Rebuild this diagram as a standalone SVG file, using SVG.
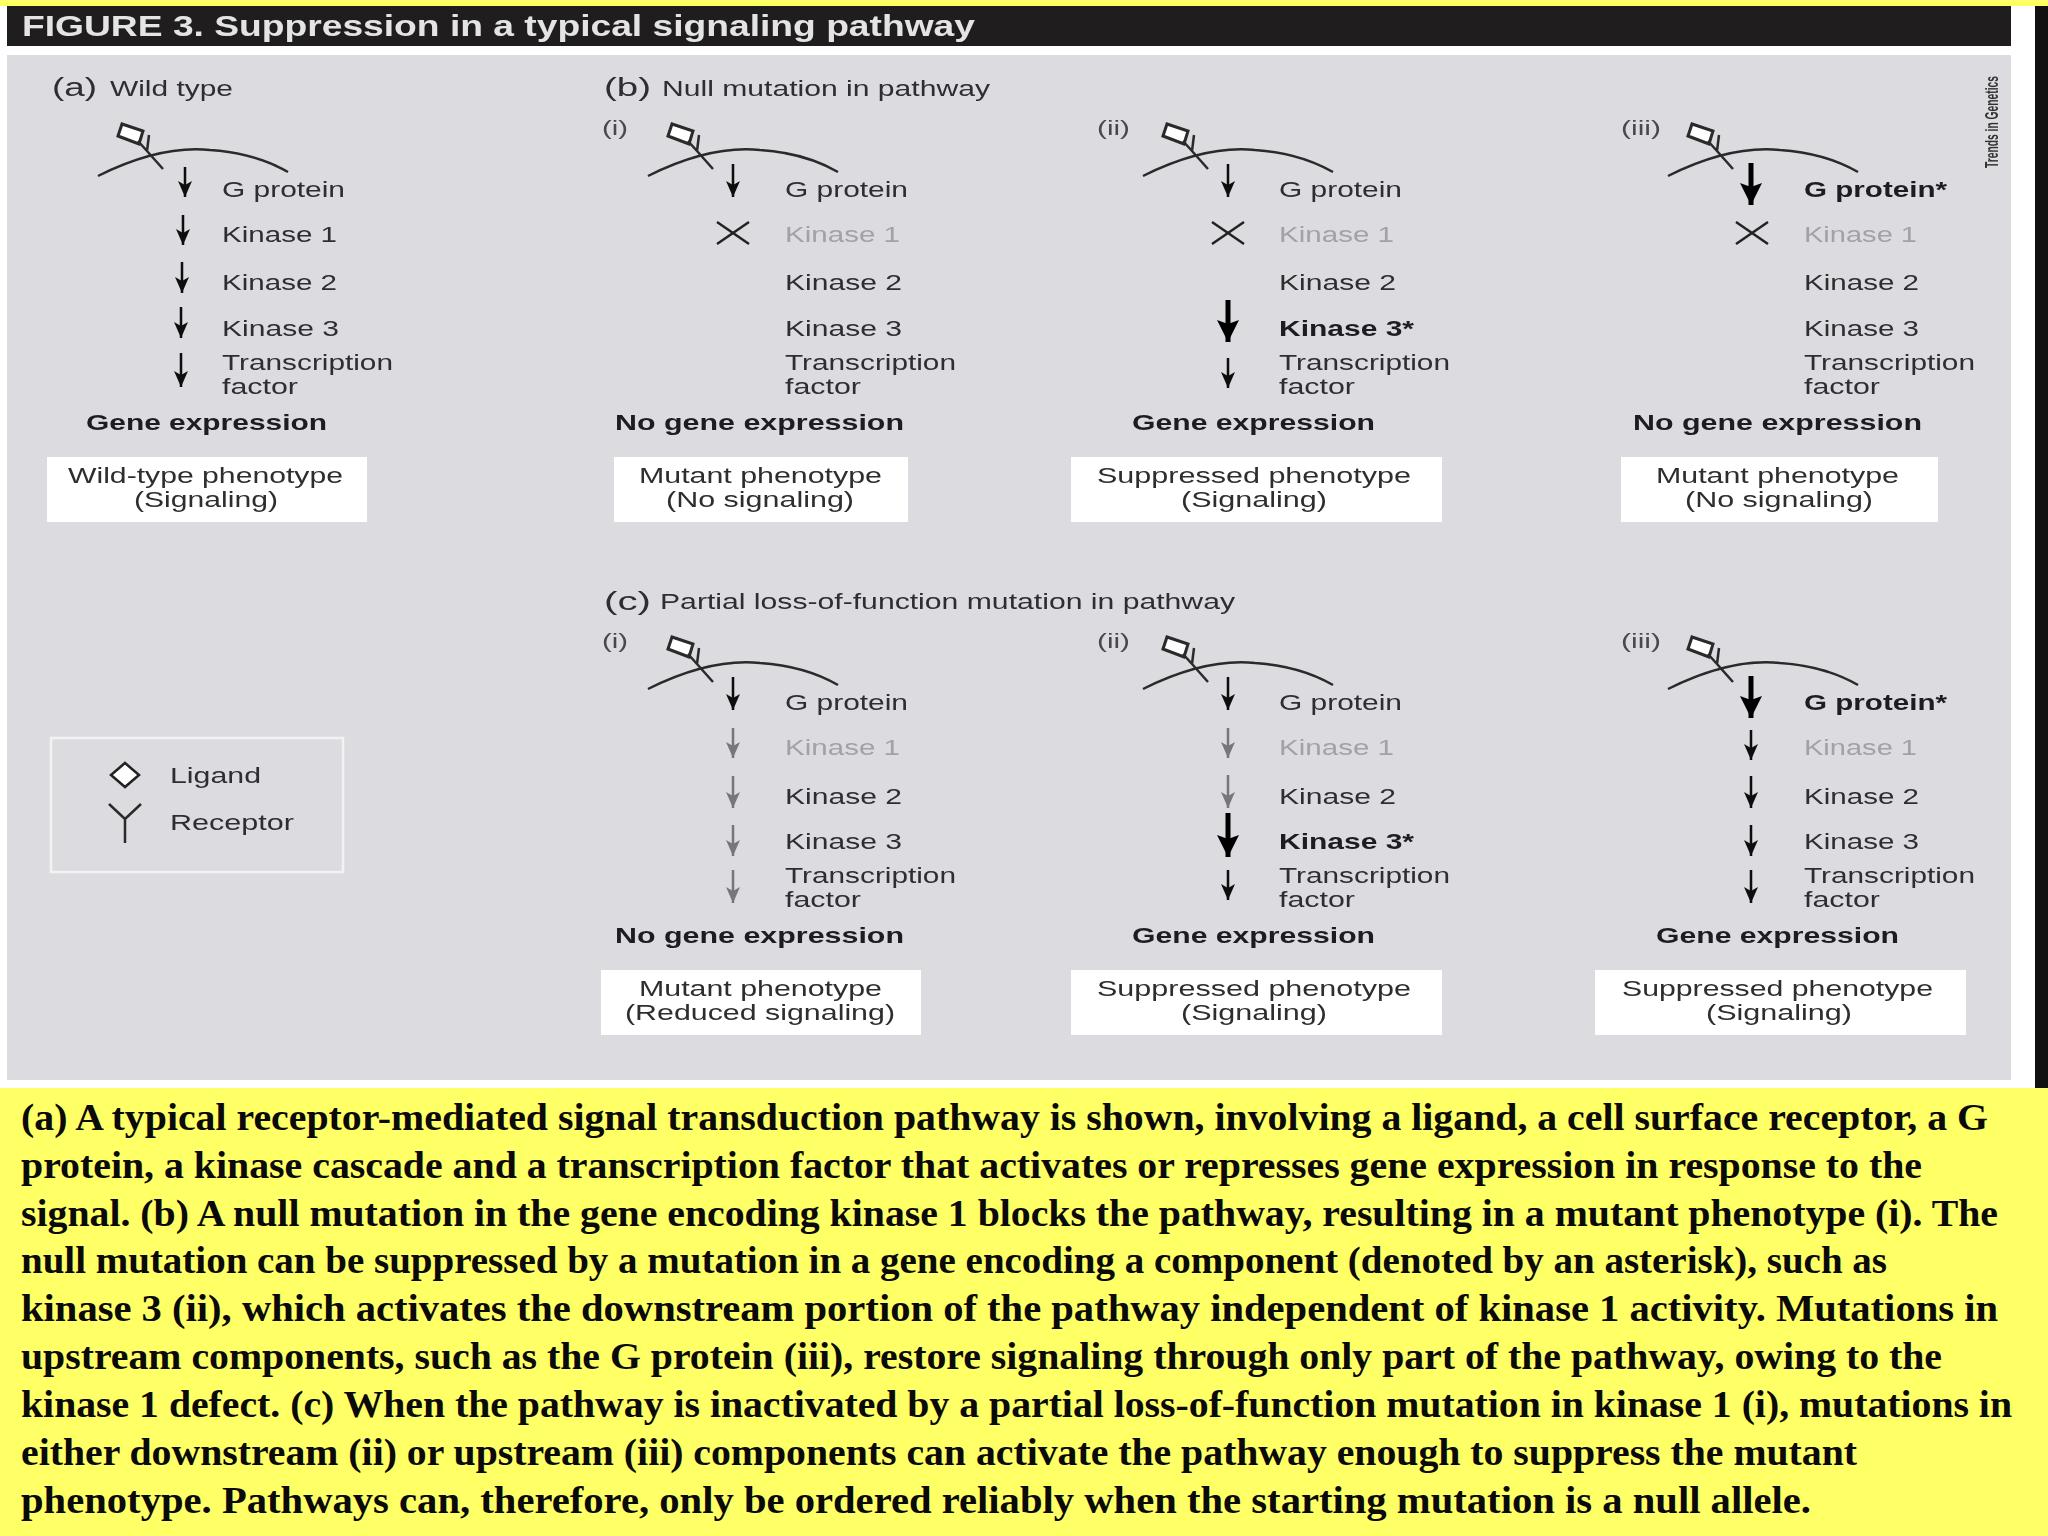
<svg xmlns="http://www.w3.org/2000/svg" xmlns:xlink="http://www.w3.org/1999/xlink" width="2048" height="1536" viewBox="0 0 2048 1536">
<style>
text{font-family:"Liberation Sans",Arial,sans-serif;font-size:22px;fill:#2e2e30}
.g{fill:#a2a2a6}
.b{font-weight:700;fill:#1e1e20}
.sm{font-size:20px;fill:#4a4a4c}
.h{font-size:29px;font-weight:700;fill:#e4e4e4}
.p{font-family:"Liberation Serif",serif;font-size:38.5px;font-weight:700;fill:#0a0a0a}
.bx{fill:#fff}
.a{stroke:#111;stroke-width:2.5;fill:none;marker-end:url(#ah)}
.ag{stroke:#77777a;stroke-width:2.5;fill:none;marker-end:url(#ahg)}
.ab{stroke:#000;stroke-width:5;fill:none;marker-end:url(#ahb)}
.x{stroke:#222;stroke-width:2.5;fill:none}
.mem{stroke:#2a2a2a;stroke-width:2.5;fill:none}
</style>
<defs>
<filter id="soft" x="0" y="0" width="100%" height="100%"><feGaussianBlur stdDeviation="0.6"/></filter>
<marker id="ah" markerUnits="userSpaceOnUse" markerWidth="20" markerHeight="20" refX="16" refY="8" orient="auto"><path d="M0,1 L16,8 L0,15 L4,8Z" fill="#111"/></marker>
<marker id="ahg" markerUnits="userSpaceOnUse" markerWidth="20" markerHeight="20" refX="16" refY="8" orient="auto"><path d="M0,1 L16,8 L0,15 L4,8Z" fill="#77777a"/></marker>
<marker id="ahb" markerUnits="userSpaceOnUse" markerWidth="26" markerHeight="26" refX="22" refY="12" orient="auto"><path d="M0,1 L22,12 L0,23 L4,12Z" fill="#000"/></marker>
<g id="rc">
<path class="mem" d="M98,176 Q160,145 210,150 Q255,153 288,172"/>
<path d="M118,136 L122,124 L143,131 L139,144Z" fill="#fff" stroke="#2a2a2a" stroke-width="3"/>
<path class="mem" d="M163,169 L147,151 M147,151 L138,141 M147,151 L149,135"/>
</g>
<path id="xm" class="x" d="M-16,-11 L16,11 M-16,11 L16,-11"/>
</defs>
<rect width="2048" height="1536" fill="#fff"/>
<rect width="2048" height="6" fill="#ffff66"/>
<rect x="0" y="1088" width="2048" height="448" fill="#ffff66"/>
<rect x="2035" y="6" width="13" height="1082" fill="#111"/>
<rect x="7" y="6" width="2004" height="40" fill="#1f1d1d"/>
<rect x="7" y="55" width="2004" height="1025" fill="#dcdce0"/>
<g id="figure" filter="url(#soft)">
<text class="h" x="22" y="36" textLength="953" lengthAdjust="spacingAndGlyphs">FIGURE 3. Suppression in a typical signaling pathway</text>

<g id="panel-a">
<text x="52" y="96" textLength="45" lengthAdjust="spacingAndGlyphs" style="font-size:26px">(a)</text>
<text x="110" y="96" textLength="123" lengthAdjust="spacingAndGlyphs">Wild type</text>
<use href="#rc"/>
<text x="222" y="197" textLength="123" lengthAdjust="spacingAndGlyphs">G protein</text>
<text x="222" y="242" textLength="115" lengthAdjust="spacingAndGlyphs">Kinase 1</text>
<text x="222" y="290" textLength="115" lengthAdjust="spacingAndGlyphs">Kinase 2</text>
<text x="222" y="336" textLength="117" lengthAdjust="spacingAndGlyphs">Kinase 3</text>
<text x="222" y="370" textLength="171" lengthAdjust="spacingAndGlyphs">Transcription</text>
<text x="222" y="394" textLength="76" lengthAdjust="spacingAndGlyphs">factor</text>
<text class="b" x="86" y="430" textLength="241" lengthAdjust="spacingAndGlyphs">Gene expression</text>
<rect class="bx" x="47" y="457" width="320" height="65"/>
<text x="68" y="483" textLength="275" lengthAdjust="spacingAndGlyphs">Wild-type phenotype</text>
<text x="134" y="507" textLength="144" lengthAdjust="spacingAndGlyphs">(Signaling)</text>
</g>

<g id="panel-b-title">
<text x="604" y="96" textLength="47" lengthAdjust="spacingAndGlyphs" style="font-size:26px">(b)</text>
<text x="662" y="96" textLength="328" lengthAdjust="spacingAndGlyphs">Null mutation in pathway</text>
<text class="sm" x="602" y="135" textLength="26" lengthAdjust="spacingAndGlyphs">(i)</text>
<text class="sm" x="1097" y="135" textLength="33" lengthAdjust="spacingAndGlyphs">(ii)</text>
<text class="sm" x="1621" y="135" textLength="40" lengthAdjust="spacingAndGlyphs">(iii)</text>
<text x="1998" y="168" textLength="92" lengthAdjust="spacingAndGlyphs" transform="rotate(-90 1998 168)" style="font-size:18px;font-weight:700;fill:#333">Trends in Genetics</text>
</g>

<g id="panel-b-i">
<use href="#rc" x="550"/>
<use href="#xm" x="733" y="233"/>
<text x="785" y="197" textLength="123" lengthAdjust="spacingAndGlyphs">G protein</text>
<text class="g" x="785" y="242" textLength="115" lengthAdjust="spacingAndGlyphs">Kinase 1</text>
<text x="785" y="290" textLength="117" lengthAdjust="spacingAndGlyphs">Kinase 2</text>
<text x="785" y="336" textLength="117" lengthAdjust="spacingAndGlyphs">Kinase 3</text>
<text x="785" y="370" textLength="171" lengthAdjust="spacingAndGlyphs">Transcription</text>
<text x="785" y="394" textLength="76" lengthAdjust="spacingAndGlyphs">factor</text>
<text class="b" x="615" y="430" textLength="289" lengthAdjust="spacingAndGlyphs">No gene expression</text>
<rect class="bx" x="614" y="457" width="294" height="65"/>
<text x="639" y="483" textLength="243" lengthAdjust="spacingAndGlyphs">Mutant phenotype</text>
<text x="666" y="507" textLength="188" lengthAdjust="spacingAndGlyphs">(No signaling)</text>
</g>

<g id="panel-b-ii">
<use href="#rc" x="1045"/>
<use href="#xm" x="1228" y="233"/>
<text x="1279" y="197" textLength="123" lengthAdjust="spacingAndGlyphs">G protein</text>
<text class="g" x="1279" y="242" textLength="115" lengthAdjust="spacingAndGlyphs">Kinase 1</text>
<text x="1279" y="290" textLength="117" lengthAdjust="spacingAndGlyphs">Kinase 2</text>
<text class="b" x="1279" y="336" textLength="135" lengthAdjust="spacingAndGlyphs">Kinase 3*</text>
<text x="1279" y="370" textLength="171" lengthAdjust="spacingAndGlyphs">Transcription</text>
<text x="1279" y="394" textLength="76" lengthAdjust="spacingAndGlyphs">factor</text>
<text class="b" x="1132" y="430" textLength="243" lengthAdjust="spacingAndGlyphs">Gene expression</text>
<rect class="bx" x="1071" y="457" width="371" height="65"/>
<text x="1097" y="483" textLength="314" lengthAdjust="spacingAndGlyphs">Suppressed phenotype</text>
<text x="1181" y="507" textLength="146" lengthAdjust="spacingAndGlyphs">(Signaling)</text>
</g>

<g id="panel-b-iii">
<use href="#rc" x="1570"/>
<use href="#xm" x="1752" y="233"/>
<text class="b" x="1804" y="197" textLength="143" lengthAdjust="spacingAndGlyphs">G protein*</text>
<text class="g" x="1804" y="242" textLength="113" lengthAdjust="spacingAndGlyphs">Kinase 1</text>
<text x="1804" y="290" textLength="115" lengthAdjust="spacingAndGlyphs">Kinase 2</text>
<text x="1804" y="336" textLength="115" lengthAdjust="spacingAndGlyphs">Kinase 3</text>
<text x="1804" y="370" textLength="171" lengthAdjust="spacingAndGlyphs">Transcription</text>
<text x="1804" y="394" textLength="76" lengthAdjust="spacingAndGlyphs">factor</text>
<text class="b" x="1633" y="430" textLength="289" lengthAdjust="spacingAndGlyphs">No gene expression</text>
<rect class="bx" x="1621" y="457" width="317" height="65"/>
<text x="1656" y="483" textLength="243" lengthAdjust="spacingAndGlyphs">Mutant phenotype</text>
<text x="1685" y="507" textLength="188" lengthAdjust="spacingAndGlyphs">(No signaling)</text>
</g>

<g id="panel-c-title">
<text x="604" y="610" textLength="47" lengthAdjust="spacingAndGlyphs" style="font-size:26px">(c)</text>
<text x="660" y="609" textLength="575" lengthAdjust="spacingAndGlyphs">Partial loss-of-function mutation in pathway</text>
<text class="sm" x="602" y="648" textLength="26" lengthAdjust="spacingAndGlyphs">(i)</text>
<text class="sm" x="1097" y="648" textLength="33" lengthAdjust="spacingAndGlyphs">(ii)</text>
<text class="sm" x="1621" y="648" textLength="40" lengthAdjust="spacingAndGlyphs">(iii)</text>
</g>

<g id="panel-c-i">
<use href="#rc" x="550" y="513"/>
<text x="785" y="710" textLength="123" lengthAdjust="spacingAndGlyphs">G protein</text>
<text class="g" x="785" y="755" textLength="115" lengthAdjust="spacingAndGlyphs">Kinase 1</text>
<text x="785" y="804" textLength="117" lengthAdjust="spacingAndGlyphs">Kinase 2</text>
<text x="785" y="849" textLength="117" lengthAdjust="spacingAndGlyphs">Kinase 3</text>
<text x="785" y="883" textLength="171" lengthAdjust="spacingAndGlyphs">Transcription</text>
<text x="785" y="907" textLength="76" lengthAdjust="spacingAndGlyphs">factor</text>
<text class="b" x="615" y="943" textLength="289" lengthAdjust="spacingAndGlyphs">No gene expression</text>
<rect class="bx" x="601" y="970" width="320" height="65"/>
<text x="639" y="996" textLength="243" lengthAdjust="spacingAndGlyphs">Mutant phenotype</text>
<text x="625" y="1020" textLength="270" lengthAdjust="spacingAndGlyphs">(Reduced signaling)</text>
</g>

<g id="panel-c-ii">
<use href="#rc" x="1045" y="513"/>
<text x="1279" y="710" textLength="123" lengthAdjust="spacingAndGlyphs">G protein</text>
<text class="g" x="1279" y="755" textLength="115" lengthAdjust="spacingAndGlyphs">Kinase 1</text>
<text x="1279" y="804" textLength="117" lengthAdjust="spacingAndGlyphs">Kinase 2</text>
<text class="b" x="1279" y="849" textLength="135" lengthAdjust="spacingAndGlyphs">Kinase 3*</text>
<text x="1279" y="883" textLength="171" lengthAdjust="spacingAndGlyphs">Transcription</text>
<text x="1279" y="907" textLength="76" lengthAdjust="spacingAndGlyphs">factor</text>
<text class="b" x="1132" y="943" textLength="243" lengthAdjust="spacingAndGlyphs">Gene expression</text>
<rect class="bx" x="1071" y="970" width="371" height="65"/>
<text x="1097" y="996" textLength="314" lengthAdjust="spacingAndGlyphs">Suppressed phenotype</text>
<text x="1181" y="1020" textLength="146" lengthAdjust="spacingAndGlyphs">(Signaling)</text>
</g>

<g id="panel-c-iii">
<use href="#rc" x="1570" y="513"/>
<text class="b" x="1804" y="710" textLength="143" lengthAdjust="spacingAndGlyphs">G protein*</text>
<text class="g" x="1804" y="755" textLength="113" lengthAdjust="spacingAndGlyphs">Kinase 1</text>
<text x="1804" y="804" textLength="115" lengthAdjust="spacingAndGlyphs">Kinase 2</text>
<text x="1804" y="849" textLength="115" lengthAdjust="spacingAndGlyphs">Kinase 3</text>
<text x="1804" y="883" textLength="171" lengthAdjust="spacingAndGlyphs">Transcription</text>
<text x="1804" y="907" textLength="76" lengthAdjust="spacingAndGlyphs">factor</text>
<text class="b" x="1656" y="943" textLength="243" lengthAdjust="spacingAndGlyphs">Gene expression</text>
<rect class="bx" x="1595" y="970" width="371" height="65"/>
<text x="1622" y="996" textLength="311" lengthAdjust="spacingAndGlyphs">Suppressed phenotype</text>
<text x="1706" y="1020" textLength="146" lengthAdjust="spacingAndGlyphs">(Signaling)</text>
</g>

<g id="legend">
<rect x="51" y="738" width="292" height="134" fill="none" stroke="#f2f2f4" stroke-width="2.5"/>
<path d="M125,763 L139,775 L125,787 L111,775Z" fill="#fff" stroke="#222" stroke-width="2.5"/>
<path class="mem" d="M109,804 L125,819 L141,804 M125,819 L125,843"/>
<text x="170" y="783" textLength="91" lengthAdjust="spacingAndGlyphs">Ligand</text>
<text x="170" y="830" textLength="124" lengthAdjust="spacingAndGlyphs">Receptor</text>
</g>

<g id="connectors">
<line class="a" x1="185" y1="167" x2="185" y2="197"/>
<line class="a" x1="183" y1="215" x2="183" y2="245"/>
<line class="a" x1="182" y1="262" x2="182" y2="293"/>
<line class="a" x1="181" y1="307" x2="181" y2="338"/>
<line class="a" x1="181" y1="353" x2="181" y2="387"/>
<line class="a" x1="733" y1="164" x2="733" y2="197"/>
<line class="a" x1="1228" y1="164" x2="1228" y2="197"/>
<line class="ab" x1="1228" y1="300" x2="1228" y2="342"/>
<line class="a" x1="1228" y1="358" x2="1228" y2="388"/>
<line class="ab" x1="1751" y1="163" x2="1751" y2="205"/>
<line class="a" x1="733" y1="677" x2="733" y2="710"/>
<line class="ag" x1="733" y1="728" x2="733" y2="758"/>
<line class="ag" x1="733" y1="776" x2="733" y2="808"/>
<line class="ag" x1="733" y1="825" x2="733" y2="856"/>
<line class="ag" x1="733" y1="870" x2="733" y2="903"/>
<line class="a" x1="1228" y1="677" x2="1228" y2="710"/>
<line class="ag" x1="1228" y1="728" x2="1228" y2="758"/>
<line class="ag" x1="1228" y1="775" x2="1228" y2="808"/>
<line class="ab" x1="1228" y1="813" x2="1228" y2="857"/>
<line class="a" x1="1228" y1="870" x2="1228" y2="900"/>
<line class="ab" x1="1751" y1="676" x2="1751" y2="718"/>
<line class="a" x1="1751" y1="730" x2="1751" y2="760"/>
<line class="a" x1="1751" y1="776" x2="1751" y2="808"/>
<line class="a" x1="1751" y1="825" x2="1751" y2="856"/>
<line class="a" x1="1751" y1="870" x2="1751" y2="903"/>
</g>
</g>

<g id="caption">
<text class="p" x="21" y="1130" textLength="1967" lengthAdjust="spacingAndGlyphs">(a) A typical receptor-mediated signal transduction pathway is shown, involving a ligand, a cell surface receptor, a G</text>
<text class="p" x="21" y="1178" textLength="1901" lengthAdjust="spacingAndGlyphs">protein, a kinase cascade and a transcription factor that activates or represses gene expression in response to the</text>
<text class="p" x="21" y="1226" textLength="1977" lengthAdjust="spacingAndGlyphs">signal. (b) A null mutation in the gene encoding kinase 1 blocks the pathway, resulting in a mutant phenotype (i). The</text>
<text class="p" x="21" y="1273" textLength="1866" lengthAdjust="spacingAndGlyphs">null mutation can be suppressed by a mutation in a gene encoding a component (denoted by an asterisk), such as</text>
<text class="p" x="21" y="1321" textLength="1977" lengthAdjust="spacingAndGlyphs">kinase 3 (ii), which activates the downstream portion of the pathway independent of kinase 1 activity. Mutations in</text>
<text class="p" x="21" y="1369" textLength="1921" lengthAdjust="spacingAndGlyphs">upstream components, such as the G protein (iii), restore signaling through only part of the pathway, owing to the</text>
<text class="p" x="21" y="1417" textLength="1991" lengthAdjust="spacingAndGlyphs">kinase 1 defect. (c) When the pathway is inactivated by a partial loss-of-function mutation in kinase 1 (i), mutations in</text>
<text class="p" x="21" y="1465" textLength="1836" lengthAdjust="spacingAndGlyphs">either downstream (ii) or upstream (iii) components can activate the pathway enough to suppress the mutant</text>
<text class="p" x="21" y="1513" textLength="1790" lengthAdjust="spacingAndGlyphs">phenotype. Pathways can, therefore, only be ordered reliably when the starting mutation is a null allele.</text>
</g>
</svg>
